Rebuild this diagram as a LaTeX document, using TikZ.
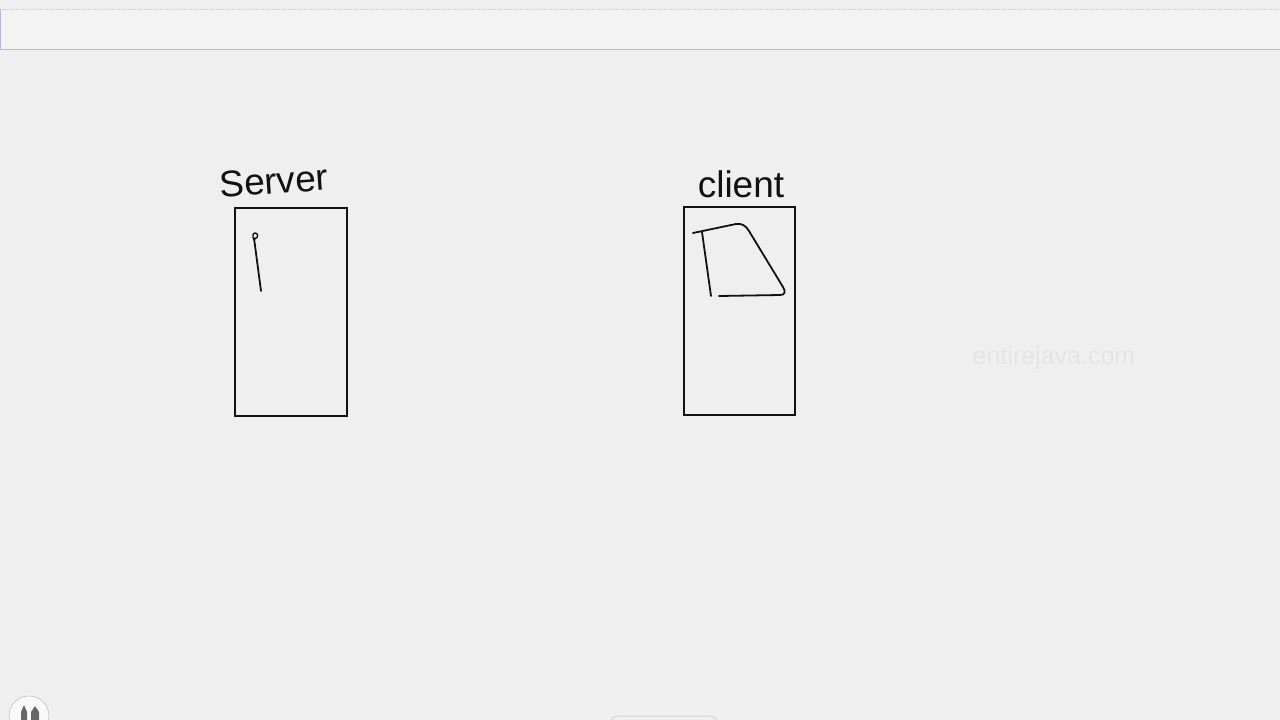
\documentclass[tikz,border=0pt]{standalone}
\usepackage{fontspec}
\setmainfont{Liberation Sans}
\definecolor{bgc}{HTML}{EFEFEF}
\definecolor{bandc}{HTML}{F3F3F4}
\definecolor{topline}{HTML}{C8C8CC}
\definecolor{blueline}{HTML}{B8B8E8}
\definecolor{wmark}{HTML}{E4E4E4}
\definecolor{ink}{HTML}{111111}
\tikzset{
  panel/.style={draw=ink, line width=1.6pt},
  stroke/.style={draw=ink, line width=1.8pt, line cap=round, line join=round},
  hand/.style={font=\fontsize{37}{40}\selectfont, text=ink, inner sep=0pt},
}
\begin{document}
\begin{tikzpicture}[x=1pt,y=-1pt]
\useasboundingbox (0,0) rectangle (1280,720);
\fill[bgc] (0,0) rectangle (1280,720);
% top band
\fill[bandc] (0,9) rectangle (1280,49);
\draw[topline, line width=0.8pt, densely dotted] (0,9) -- (1280,9);
\draw[blueline, line width=1pt] (0,49) -- (1280,49);
\draw[blueline, line width=1pt] (0.5,9) -- (0.5,49);
% panels
\node[panel, minimum width=112pt, minimum height=208pt, inner sep=0pt] (server) at (291,312) {};
\node[panel, minimum width=111pt, minimum height=208pt, inner sep=0pt] (client) at (739.5,311) {};
% labels
\node[hand, rotate=4] (serverlbl) at (274,181) {Server};
\node[hand] (clientlbl) at (741,184) {client};
% server stroke
\draw[stroke, line width=1.4pt] (254,240) .. controls (252,236) and (253,233) .. (255,233) .. controls (258,233) and (259,237) .. (255,239);
\draw[stroke] (254,238) -- (261,291);
% client shape
\draw[stroke] (693,233) -- (736,224) .. controls (742,223) and (746,226) .. (749,231) -- (783,287) .. controls (786,292) and (785,295) .. (780,295) -- (719,296);
\draw[stroke] (702,232) -- (711,296);
% watermark
\node[font=\fontsize{25}{28}\selectfont, text=wmark] (wm) at (1054,358) {entirejava.com};
% bottom widgets
\node[circle, draw=gray!60, fill=white!60!bgc, minimum size=40pt, inner sep=0pt] (icon) at (29,716) {};
\fill[gray!80!black] (21,720) -- (21,712) -- (24,705) -- (27,712) -- (27,720) -- cycle;
\fill[gray!80!black] (31,720) -- (31,712) -- (35,706) -- (39,712) -- (39,720) -- cycle;
\draw[gray!35, line width=1pt, rounded corners=8pt] (610,724) -- (610,716) -- (718,716) -- (718,724);
\end{tikzpicture}
\end{document}
